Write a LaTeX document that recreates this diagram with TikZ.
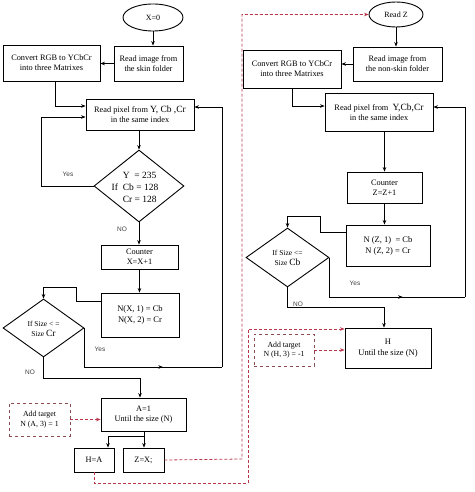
\documentclass[tikz,border=0pt]{standalone}
\usepackage{fontspec}
\setmainfont{Liberation Serif}
\newfontfamily\lsans{Liberation Sans}
\usetikzlibrary{shapes.geometric,arrows.meta,decorations.markings}
\definecolor{dred}{RGB}{185,55,75}
\definecolor{dbox}{RGB}{135,75,80}
\begin{document}
\begin{tikzpicture}[x=1pt,y=-1pt,
  box/.style={draw,line width=0.9pt,rectangle,inner sep=0pt,align=center,font=\fontsize{8.3}{10}\selectfont},
  ell/.style={draw,line width=0.9pt,ellipse,inner sep=0pt,font=\fontsize{8}{9}\selectfont},
  dia/.style={draw,line width=0.9pt,diamond,inner sep=0pt},
  abox/.style={draw=dbox,dashed,line width=0.8pt,rectangle,inner sep=0pt,align=center,font=\fontsize{7.8}{9.5}\selectfont},
  arr/.style={line width=0.9pt,-{Stealth[length=4.5pt,width=3.6pt]}},
  ln/.style={line width=0.9pt},
  dsh/.style={draw=dred,line width=0.8pt,dash pattern=on 3pt off 2pt,-{Stealth[length=4.5pt,width=3.6pt]}},
  midarr/.style={line width=0.9pt,postaction={decorate},decoration={markings,mark=at position #1 with {\arrow{Stealth[length=4.5pt,width=3.6pt]}}}},
  lab/.style={font=\lsans\fontsize{6.5}{8}\selectfont,text=black!75,inner sep=0pt},
  dtxt/.style={align=center,inner sep=0pt,font=\fontsize{7.5}{10}\selectfont}
]
\useasboundingbox (0,0) rectangle (474,492);

% ---------------- left column ----------------
\node[ell,minimum width=60,minimum height=27] (e1) at (153,17.5) {X=0};
\node[box,minimum width=69,minimum height=35] (rd1) at (148.5,63.5) {Read image from\\the skin folder};
\node[box,minimum width=97,minimum height=36] (cv1) at (51.5,63) {Convert RGB to YCbCr\\into three Matrixes};
\node[box,minimum width=108,minimum height=31] (rp1) at (140,114.5) {Read pixel from {\fontsize{9.5}{10}\selectfont Y, Cb ,Cr}\\in the same index};
\node[dia,minimum width=90,minimum height=72] (d1) at (139,186) {};
\node[align=left,inner sep=0pt,font=\fontsize{9.5}{12}\selectfont] (d1t) at (135,188)
  {\begin{tabular}{@{}r@{\ \ }l@{}} & Y\ \ = 235\\ If & Cb = 128\\ & Cr = 128\end{tabular}};
\node[box,minimum width=77,minimum height=24] (ct1) at (139.5,257) {Counter\\X=X+1};
\node[box,minimum width=78,minimum height=44,font=\fontsize{8.5}{11}\selectfont] (n1) at (140,315) {N(X, 1) = Cb\\N(X, 2) = Cr};
\node[dia,minimum width=81,minimum height=58] (d2) at (43.5,328) {};
\node[dtxt] (d2t) at (43.5,329) {If Size < =\\Size {\fontsize{9.5}{10}\selectfont Cr}};
\node[box,minimum width=85,minimum height=33] (a1) at (143.5,414.5) {A=1\\Until the size (N)};
\node[abox,minimum width=61,minimum height=33] (at1) at (39.5,419.5) {Add target\\N (A, 3) = 1};
\node[box,minimum width=40,minimum height=24] (ha) at (94,460) {H=A};
\node[box,minimum width=41,minimum height=24] (zx) at (143.5,460) {Z=X;};

\node[lab] (y1) at (68,174) {Yes};
\node[lab] (no1) at (122,229) {NO};
\node[lab] (y2) at (100,349) {Yes};
\node[lab] (no2) at (30,372) {NO};

% ---------------- right column ----------------
\node[ell,minimum width=54,minimum height=25] (e2) at (396,14.5) {Read Z};
\node[box,minimum width=89,minimum height=34] (rd2) at (397.5,64) {Read image from\\the non-skin folder};
\node[box,minimum width=98,minimum height=38] (cv2) at (292,69) {Convert RGB to YCbCr\\into three Matrixes};
\node[box,minimum width=108,minimum height=38] (rp2) at (379,112) {Read pixel from\ \ {\fontsize{9.5}{10}\selectfont Y,Cb,Cr}\\in the same index};
\node[box,minimum width=75,minimum height=31] (ct2) at (384.5,187.5) {Counter\\Z=Z+1};
\node[box,minimum width=84,minimum height=41,font=\fontsize{8.5}{11}\selectfont] (n2) at (388,245.5) {N (Z, 1)\ \ = Cb\\N (Z, 2) = Cr};
\node[dia,minimum width=83,minimum height=59] (d3) at (287.5,257.5) {};
\node[dtxt] (d3t) at (287.5,258) {If Size <=\\Size {\fontsize{9.5}{10}\selectfont Cb}};
\node[box,minimum width=86,minimum height=40,font=\fontsize{8.5}{11}\selectfont] (h2) at (388,348) {H\\Until the size (N)};
\node[abox,minimum width=60,minimum height=32] (at2) at (284,350) {Add target\\N (H, 3) = -1};

\node[lab] (y3) at (355,283) {Yes};
\node[lab] (no3) at (298,304) {NO};

% ---------------- helper coordinates ----------------
\coordinate (k1) at (55,106);
\coordinate (k2) at (41,117);
\coordinate (k3a) at (76,301);
\coordinate (k3b) at (76,287);
\coordinate (k4) at (222,367);
\coordinate (k5) at (222,107);
\coordinate (k7) at (140,378);
\coordinate (k8) at (144,436);
\coordinate (k9) at (108,436);
\coordinate (k10) at (242,459);
\coordinate (k12) at (248,483);
\coordinate (k13) at (248,329);
\coordinate (r1) at (292,106);
\coordinate (r2) at (320,232);
\coordinate (r3) at (320,216);
\coordinate (r4) at (465,297);
\coordinate (r5) at (465,107);
\coordinate (r6) at (384,307);

% ---------------- left connectors ----------------
\draw[arr] (e1.south) -- (e1.south |- rd1.north);
\draw[arr] (rd1.west) -- (rd1.west -| cv1.east);
\draw[arr] (k1 |- cv1.south) -- (k1) -- (k1 -| rp1.west);
\draw[arr] (d1.west) -- (d1.west -| k2) -- (k2) -- (k2 -| rp1.west);
\draw[arr] (d1.north |- rp1.south) -- (d1.north);
\draw[arr] (d1.south) -- (d1.south |- ct1.north);
\draw[arr] (ct1.south) -- (ct1.south |- n1.north);
\draw[arr] (k3a -| n1.west) -- (k3a) -- (k3b) -- (k3b -| d2.north) -- (d2.north);
\draw[ln] (d2.east) -- (d2.east |- k4);
\draw[midarr=0.57] (d2.east |- k4) -- (k4);
\draw[arr] (k4) -- (k5) -- (k5 -| rp1.east);
\draw[arr] (d2.south) -- (d2.south |- k7) -- (k7) -- (k7 |- a1.north);
\draw[dsh] (at1.east) -- (at1.east -| a1.west);
\draw[ln] (k8 |- a1.south) -- (k8);
\draw[arr] (k8) -- (k8 |- zx.north);
\draw[arr] (k8) -- (k9) -- (k9 |- ha.north);
\draw[dsh] (zx.east) -- (k10) -- (k10 |- e2.west) -- (e2.west);
\draw[dsh] (ha.south) -- (ha.south |- k12) -- (k12) -- (k13) -- (k13 -| h2.west);

% ---------------- right connectors ----------------
\draw[arr] (e2.south) -- (e2.south |- rd2.north);
\draw[arr] (rd2.west) -- (rd2.west -| cv2.east);
\draw[arr] (r1 |- cv2.south) -- (r1) -- (r1 -| rp2.west);
\draw[arr] (ct2.north |- rp2.south) -- (ct2.north);
\draw[arr] (ct2.south) -- (ct2.south |- n2.north);
\draw[arr] (r2 -| n2.west) -- (r2) -- (r3) -- (r3 -| d3.north) -- (d3.north);
\draw[ln] (d3.east) -- (d3.east |- r4);
\draw[midarr=0.54] (d3.east |- r4) -- (r4);
\draw[arr] (r4) -- (r5) -- (r5 -| rp2.east);
\draw[arr] (d3.south) -- (d3.south |- r6) -- (r6) -- (r6 |- h2.north);
\draw[dsh] (at2.east) -- (at2.east -| h2.west);
\end{tikzpicture}
\end{document}
